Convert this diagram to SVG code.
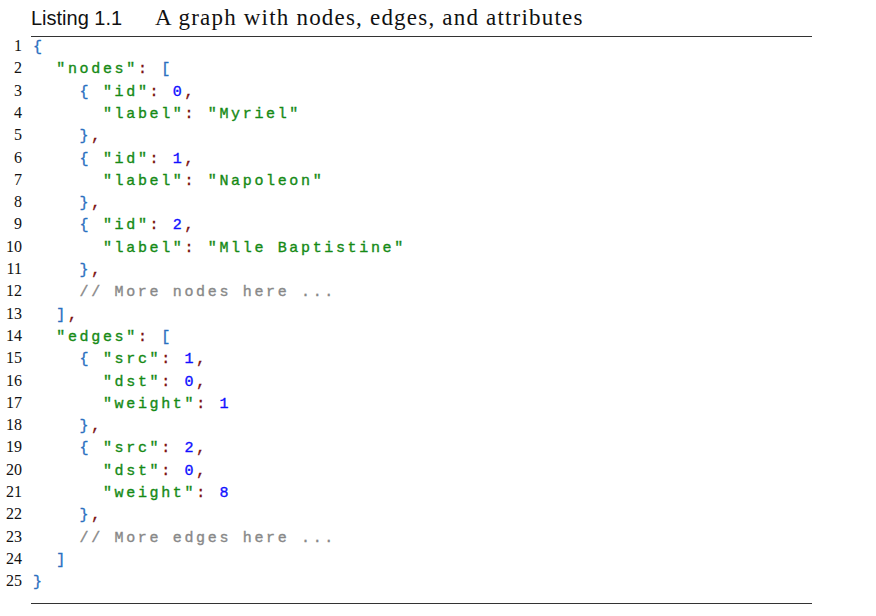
<svg xmlns="http://www.w3.org/2000/svg" width="876" height="616" viewBox="0 0 876 616">
<style>
.n{font-family:"Liberation Serif",serif;font-size:16px;fill:#111;text-anchor:end}
.c{font-family:"Liberation Mono",monospace;font-size:15px;letter-spacing:2.65px;fill:#7a1010;stroke:#7a1010;stroke-width:0.35px;white-space:pre}
.b{fill:#2a6fbf;stroke:#2a6fbf}.k{fill:#158a15;stroke:#158a15}.v{fill:#1010ff;stroke:#1010ff}.g{fill:#888;stroke:#888}
</style>
<rect width="876" height="616" fill="#fff"/>
<g id="title">
<text x="31" y="25" font-family="Liberation Sans,sans-serif" font-size="20" fill="#111">Listing 1.1</text>
<text x="155" y="25" font-family="Liberation Serif,serif" font-size="23" letter-spacing="1.2" fill="#111">A graph with nodes, edges, and attributes</text>
<line x1="31" y1="36.5" x2="812" y2="36.5" stroke="#333" stroke-width="1"/>
<line x1="31" y1="603.5" x2="812" y2="603.5" stroke="#333" stroke-width="1"/>
</g>
<g id="linenumbers">
<text class="n" x="22" y="51">1</text><text class="n" x="22" y="73.3">2</text><text class="n" x="22" y="95.6">3</text><text class="n" x="22" y="117.9">4</text><text class="n" x="22" y="140.2">5</text><text class="n" x="22" y="162.5">6</text><text class="n" x="22" y="184.8">7</text><text class="n" x="22" y="207.1">8</text><text class="n" x="22" y="229.4">9</text><text class="n" x="22" y="251.7">10</text><text class="n" x="22" y="274">11</text><text class="n" x="22" y="296.3">12</text><text class="n" x="22" y="318.6">13</text><text class="n" x="22" y="340.9">14</text><text class="n" x="22" y="363.2">15</text><text class="n" x="22" y="385.5">16</text><text class="n" x="22" y="407.8">17</text><text class="n" x="22" y="430.1">18</text><text class="n" x="22" y="452.4">19</text><text class="n" x="22" y="474.7">20</text><text class="n" x="22" y="497">21</text><text class="n" x="22" y="519.3">22</text><text class="n" x="22" y="541.6">23</text><text class="n" x="22" y="563.9">24</text><text class="n" x="22" y="586.2">25</text>
</g>
<g id="code">
<text class="c" x="33" y="51"><tspan class="b">{</tspan></text>
<text class="c" x="33" y="73.3">  <tspan class="k">"nodes"</tspan>: <tspan class="b">[</tspan></text>
<text class="c" x="33" y="95.6">    <tspan class="b">{</tspan> <tspan class="k">"id"</tspan>: <tspan class="v">0</tspan>,</text>
<text class="c" x="33" y="117.9">      <tspan class="k">"label"</tspan>: <tspan class="k">"Myriel"</tspan></text>
<text class="c" x="33" y="140.2">    <tspan class="b">}</tspan>,</text>
<text class="c" x="33" y="162.5">    <tspan class="b">{</tspan> <tspan class="k">"id"</tspan>: <tspan class="v">1</tspan>,</text>
<text class="c" x="33" y="184.8">      <tspan class="k">"label"</tspan>: <tspan class="k">"Napoleon"</tspan></text>
<text class="c" x="33" y="207.1">    <tspan class="b">}</tspan>,</text>
<text class="c" x="33" y="229.4">    <tspan class="b">{</tspan> <tspan class="k">"id"</tspan>: <tspan class="v">2</tspan>,</text>
<text class="c" x="33" y="251.7">      <tspan class="k">"label"</tspan>: <tspan class="k">"Mlle Baptistine"</tspan></text>
<text class="c" x="33" y="274">    <tspan class="b">}</tspan>,</text>
<text class="c" x="33" y="296.3">    <tspan class="g">// More nodes here ...</tspan></text>
<text class="c" x="33" y="318.6">  <tspan class="b">]</tspan>,</text>
<text class="c" x="33" y="340.9">  <tspan class="k">"edges"</tspan>: <tspan class="b">[</tspan></text>
<text class="c" x="33" y="363.2">    <tspan class="b">{</tspan> <tspan class="k">"src"</tspan>: <tspan class="v">1</tspan>,</text>
<text class="c" x="33" y="385.5">      <tspan class="k">"dst"</tspan>: <tspan class="v">0</tspan>,</text>
<text class="c" x="33" y="407.8">      <tspan class="k">"weight"</tspan>: <tspan class="v">1</tspan></text>
<text class="c" x="33" y="430.1">    <tspan class="b">}</tspan>,</text>
<text class="c" x="33" y="452.4">    <tspan class="b">{</tspan> <tspan class="k">"src"</tspan>: <tspan class="v">2</tspan>,</text>
<text class="c" x="33" y="474.7">      <tspan class="k">"dst"</tspan>: <tspan class="v">0</tspan>,</text>
<text class="c" x="33" y="497">      <tspan class="k">"weight"</tspan>: <tspan class="v">8</tspan></text>
<text class="c" x="33" y="519.3">    <tspan class="b">}</tspan>,</text>
<text class="c" x="33" y="541.6">    <tspan class="g">// More edges here ...</tspan></text>
<text class="c" x="33" y="563.9">  <tspan class="b">]</tspan></text>
<text class="c" x="33" y="586.2"><tspan class="b">}</tspan></text>
</g>
</svg>
